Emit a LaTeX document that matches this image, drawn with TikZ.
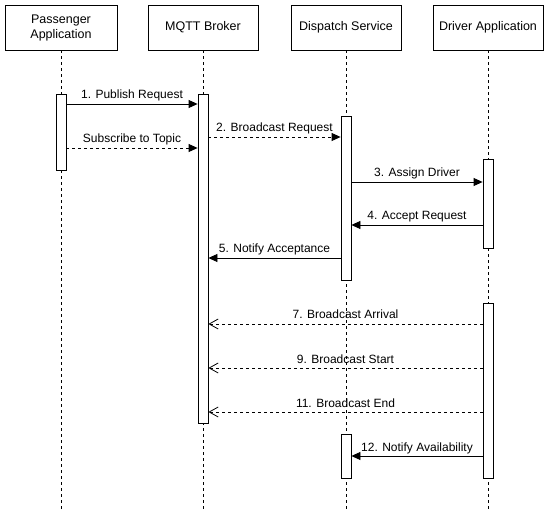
\documentclass[tikz,border=0pt]{standalone}
\usepackage{fontspec}
\setmainfont{Liberation Sans}
\usetikzlibrary{arrows.meta}

\tikzset{
  actor/.style={draw, line width=0.8pt, minimum width=110pt, minimum height=45pt,
    align=center, inner sep=0pt, font=\fontsize{12.5}{15}\selectfont},
  actbar/.style={draw, fill=white, line width=0.8pt, minimum width=10pt, inner sep=0pt},
  lifeline/.style={line width=0.8pt, dash pattern=on 3pt off 3pt},
  call/.style={line width=0.8pt, -{Triangle[length=9pt,width=8pt]}},
  async/.style={call, dash pattern=on 3pt off 3pt},
  reply/.style={line width=0.8pt, dash pattern=on 3pt off 3pt,
    -{Straight Barb[length=9pt,width=10pt]}},
  msglabel/.style={anchor=base, yshift=5pt, inner sep=0pt, font=\fontsize{12}{14}\selectfont},
}

\begin{document}
\begin{tikzpicture}[x=1pt, y=-1pt]
    \useasboundingbox (0,0) rectangle (550,516);

    % akterji
    \node[actor, minimum width=112pt] (pa) at (61, 27.5) {Passenger\\Application};
    \node[actor] (mb) at (203, 27.5) {MQTT Broker};
    \node[actor] (ds) at (346, 27.5) {Dispatch Service};
    \node[actor] (da) at (488, 27.5) {Driver Application};

    % zivljenjske crte
    \coordinate (pa end) at (61, 510);
    \coordinate (mb end) at (203, 510);
    \coordinate (ds end) at (346, 510);
    \coordinate (da end) at (488, 510);
    \draw[lifeline] (pa.south) -- (pa end);
    \draw[lifeline] (mb.south) -- (mb end);
    \draw[lifeline] (ds.south) -- (ds end);
    \draw[lifeline] (da.south) -- (da end);

    % aktivacije
    \node[actbar, minimum height=76pt] (pa1) at (61, 132) {};
    \node[actbar, minimum height=329pt] (mb1) at (203, 258.5) {};
    \node[actbar, minimum height=164pt] (ds1) at (346, 198) {};
    \node[actbar, minimum height=44pt] (ds2) at (346, 456) {};
    \node[actbar, minimum height=89pt] (da1) at (488, 203.5) {};
    \node[actbar, minimum height=175pt] (da2) at (488, 390.5) {};

    % sporocila
    \draw[call] (pa1.east |- 0,104) -- node[msglabel] {1. Publish Request} (mb1.west |- 0,104);
    \draw[async] (pa1.east |- 0,148) -- node[msglabel] {Subscribe to Topic} (mb1.west |- 0,148);
    \draw[async] (mb1.east |- 0,137) -- node[msglabel] {2. Broadcast Request} (ds1.west |- 0,137);
    \draw[call] (ds1.east |- 0,182) -- node[msglabel] {3. Assign Driver} (da1.west |- 0,182);
    \draw[call] (da1.west |- 0,225) -- node[msglabel] {4. Accept Request} (ds1.east |- 0,225);
    \draw[call] (ds1.west |- 0,258) -- node[msglabel] {5. Notify Acceptance} (mb1.east |- 0,258);

    % povratna sporocila
    \draw[reply] (da2.west |- 0,324) -- node[msglabel] {7. Broadcast Arrival} (mb1.east |- 0,324);
    \draw[reply] (da2.west |- 0,368) -- node[msglabel] {9. Broadcast Start} (mb1.east |- 0,368);
    \draw[reply] (da2.west |- 0,412) -- node[msglabel] {11. Broadcast End} (mb1.east |- 0,412);
    \draw[call] (da2.west |- 0,456) -- node[msglabel] {12. Notify Availability} (ds2.east |- 0,456);
\end{tikzpicture}
\end{document}
